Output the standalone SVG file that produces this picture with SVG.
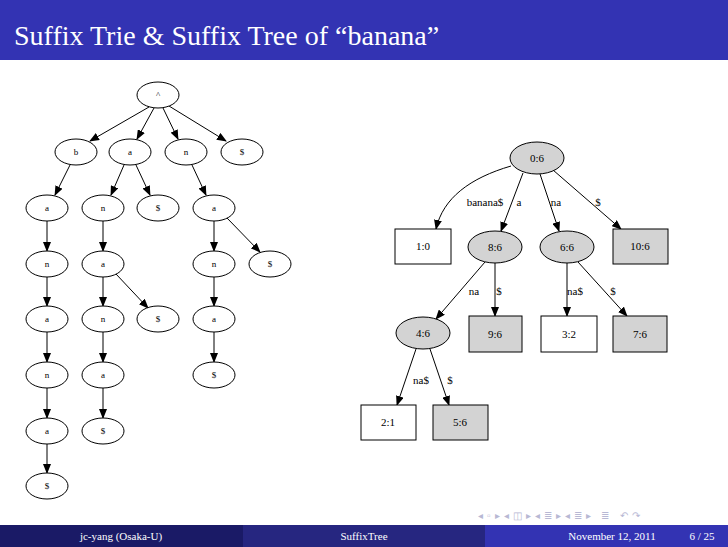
<svg xmlns="http://www.w3.org/2000/svg" width="728" height="547" viewBox="0 0 728 547">
<defs>
<marker id="ah" markerWidth="10" markerHeight="8" refX="9" refY="4" orient="auto" markerUnits="userSpaceOnUse"><path d="M0,0 L10,4 L0,8 Z" fill="#000"/></marker>
</defs>
<style>
.n ellipse{fill:#fff;stroke:#000;stroke-width:1}
.g ellipse{fill:#d3d3d3;stroke:#000}
.r rect{fill:#fff;stroke:#000}
.rg rect{fill:#d3d3d3;stroke:#000}
text{font-family:"Liberation Serif",serif;text-anchor:middle;fill:#000}
.t{font-size:9px}
.b{font-size:11px}
#edges line,#edges path{stroke:#000;stroke-width:1;fill:none;marker-end:url(#ah)}
.lb{font-size:11px}
</style>
<rect width="728" height="547" fill="#fff"/>
<rect width="728" height="60" fill="#3333b3"/>
<text x="14" y="45" style="font-size:28px;text-anchor:start;fill:#fff">Suffix Trie &amp; Suffix Tree of “banana”</text>

<g id="edges">
<line x1="149" y1="107" x2="90" y2="141"/>
<line x1="154" y1="108" x2="137" y2="139"/>
<line x1="163" y1="108" x2="178" y2="139"/>
<line x1="169" y1="106" x2="226" y2="141"/>
<line x1="70" y1="165" x2="55" y2="195"/>
<line x1="124" y1="165" x2="111" y2="195"/>
<line x1="136" y1="165" x2="150" y2="195"/>
<line x1="192" y1="165" x2="206" y2="195"/>
<line x1="47" y1="221" x2="47" y2="251"/>
<line x1="47" y1="277" x2="47" y2="306"/>
<line x1="47" y1="332" x2="47" y2="362"/>
<line x1="47" y1="388" x2="47" y2="418"/>
<line x1="47" y1="444" x2="47" y2="473"/>
<line x1="103" y1="221" x2="103" y2="251"/>
<line x1="103" y1="277" x2="103" y2="306"/>
<line x1="103" y1="332" x2="103" y2="362"/>
<line x1="103" y1="388" x2="103" y2="418"/>
<line x1="116" y1="274" x2="148" y2="308"/>
<line x1="214" y1="221" x2="214" y2="251"/>
<line x1="227" y1="218" x2="260" y2="252"/>
<line x1="214" y1="277" x2="214" y2="306"/>
<line x1="214" y1="332" x2="214" y2="362"/>
<path d="M511,166 C470,178 443,198 436,229"/>
<line x1="523" y1="173" x2="501" y2="231"/>
<line x1="540" y1="174" x2="559" y2="231"/>
<line x1="553" y1="170" x2="621" y2="229"/>
<line x1="485" y1="262" x2="436" y2="319"/>
<line x1="495" y1="263" x2="495" y2="316"/>
<line x1="567" y1="263" x2="567" y2="316"/>
<line x1="578" y1="262" x2="627" y2="316"/>
<line x1="416" y1="349" x2="397" y2="405"/>
<line x1="430" y1="349" x2="449" y2="405"/>
</g>
<g class="lb">
<text x="485" y="206">banana$</text><text x="519" y="206">a</text>
<text x="556" y="206">na</text><text x="598" y="206">$</text>
<text x="474" y="295">na</text><text x="499" y="295">$</text>
<text x="575" y="295">na$</text><text x="613" y="295">$</text>
<text x="421" y="384">na$</text><text x="450" y="384">$</text>
</g>

<g class="t">
<g id="t0" class="n"><ellipse cx="158" cy="95" rx="21" ry="13"/><text x="158" y="98">^</text></g>
<g id="t1" class="n"><ellipse cx="76" cy="152" rx="21" ry="13"/><text x="76" y="155">b</text></g>
<g id="t2" class="n"><ellipse cx="130" cy="152" rx="21" ry="13"/><text x="130" y="155">a</text></g>
<g id="t3" class="n"><ellipse cx="186" cy="152" rx="21" ry="13"/><text x="186" y="155">n</text></g>
<g id="t4" class="n"><ellipse cx="242" cy="152" rx="21" ry="13"/><text x="242" y="155">$</text></g>
<g id="t5" class="n"><ellipse cx="47" cy="208" rx="21" ry="13"/><text x="47" y="211">a</text></g>
<g id="t6" class="n"><ellipse cx="103" cy="208" rx="21" ry="13"/><text x="103" y="211">n</text></g>
<g id="t7" class="n"><ellipse cx="158" cy="208" rx="21" ry="13"/><text x="158" y="211">$</text></g>
<g id="t8" class="n"><ellipse cx="214" cy="208" rx="21" ry="13"/><text x="214" y="211">a</text></g>
<g id="t9" class="n"><ellipse cx="47" cy="264" rx="21" ry="13"/><text x="47" y="267">n</text></g>
<g id="t10" class="n"><ellipse cx="103" cy="264" rx="21" ry="13"/><text x="103" y="267">a</text></g>
<g id="t11" class="n"><ellipse cx="214" cy="264" rx="21" ry="13"/><text x="214" y="267">n</text></g>
<g id="t12" class="n"><ellipse cx="270" cy="264" rx="21" ry="13"/><text x="270" y="267">$</text></g>
<g id="t13" class="n"><ellipse cx="47" cy="319" rx="21" ry="13"/><text x="47" y="322">a</text></g>
<g id="t14" class="n"><ellipse cx="103" cy="319" rx="21" ry="13"/><text x="103" y="322">n</text></g>
<g id="t15" class="n"><ellipse cx="158" cy="319" rx="21" ry="13"/><text x="158" y="322">$</text></g>
<g id="t16" class="n"><ellipse cx="214" cy="319" rx="21" ry="13"/><text x="214" y="322">a</text></g>
<g id="t17" class="n"><ellipse cx="47" cy="375" rx="21" ry="13"/><text x="47" y="378">n</text></g>
<g id="t18" class="n"><ellipse cx="103" cy="375" rx="21" ry="13"/><text x="103" y="378">a</text></g>
<g id="t19" class="n"><ellipse cx="214" cy="375" rx="21" ry="13"/><text x="214" y="378">$</text></g>
<g id="t20" class="n"><ellipse cx="47" cy="431" rx="21" ry="13"/><text x="47" y="434">a</text></g>
<g id="t21" class="n"><ellipse cx="103" cy="431" rx="21" ry="13"/><text x="103" y="434">$</text></g>
<g id="t22" class="n"><ellipse cx="47" cy="486" rx="21" ry="13"/><text x="47" y="489">$</text></g>
</g>

<g class="b">
<g id="s0" class="g"><ellipse cx="537" cy="158" rx="27" ry="16"/><text x="537" y="162">0:6</text></g>
<g id="s1" class="r"><rect x="395" y="229" width="56" height="35"/><text x="423" y="250">1:0</text></g>
<g id="s2" class="g"><ellipse cx="495" cy="247" rx="27" ry="16"/><text x="495" y="251">8:6</text></g>
<g id="s3" class="g"><ellipse cx="567" cy="247" rx="27" ry="16"/><text x="567" y="251">6:6</text></g>
<g id="s4" class="rg"><rect x="613" y="229" width="55" height="35"/><text x="640" y="250">10:6</text></g>
<g id="s5" class="g"><ellipse cx="423" cy="333" rx="27" ry="16"/><text x="423" y="337">4:6</text></g>
<g id="s6" class="rg"><rect x="469" y="316" width="53" height="36"/><text x="495" y="338">9:6</text></g>
<g id="s7" class="r"><rect x="541" y="316" width="56" height="36"/><text x="569" y="338">3:2</text></g>
<g id="s8" class="rg"><rect x="613" y="316" width="54" height="36"/><text x="640" y="338">7:6</text></g>
<g id="s9" class="r"><rect x="361" y="405" width="55" height="35"/><text x="388" y="426">2:1</text></g>
<g id="s10" class="rg"><rect x="433" y="405" width="55" height="35"/><text x="460" y="426">5:6</text></g>
</g>

<text x="478" y="519" style="fill:#b8b8d4;font-size:10px;text-anchor:start;letter-spacing:4px">◂▫▸◂◫▸◂≣▸◂≣▸ ≣ ↶↷</text>
<rect x="0" y="525" width="243" height="22" fill="#1a1a66"/>
<rect x="243" y="525" width="242" height="22" fill="#262680"/>
<rect x="485" y="525" width="243" height="22" fill="#3333b3"/>
<g style="font-size:11px">
<text x="121" y="540" style="fill:#fff">jc-yang  (Osaka-U)</text>
<text x="364" y="540" style="fill:#fff">SuffixTree</text>
<text x="612" y="540" style="fill:#fff">November 12, 2011</text>
<text x="702" y="540" style="fill:#fff">6 / 25</text>
</g>
</svg>
